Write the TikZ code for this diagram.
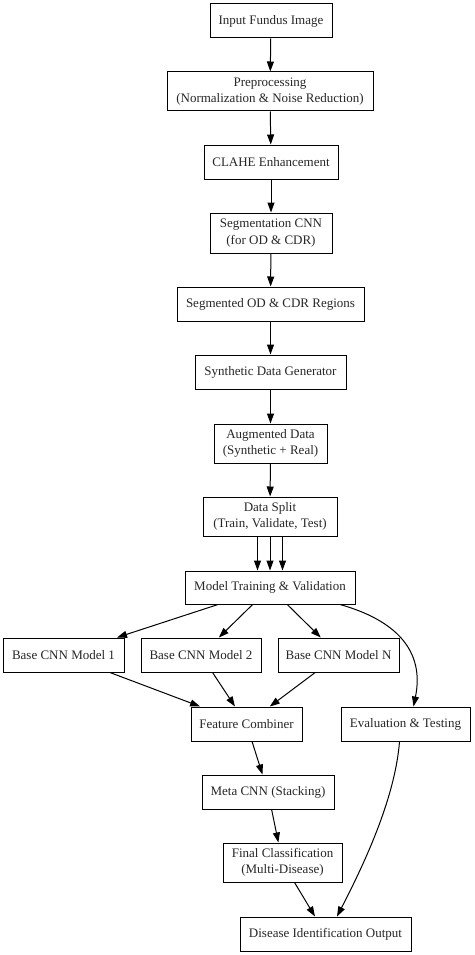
\documentclass[tikz,border=0pt]{standalone}
\usepackage{fontspec}
\setmainfont{Liberation Serif}
\usetikzlibrary{arrows.meta,calc}
\begin{document}
\begin{tikzpicture}[x=1pt,y=-1pt,
  box/.style={draw=black,line width=1pt,inner sep=0pt,align=center,
    font=\fontsize{13}{16.5}\selectfont,text=black!85},
  arr/.style={line width=1pt,-{Triangle[length=10pt,width=7pt]}}]
\useasboundingbox (0,0) rectangle (474,955);
\node[box,minimum width=122pt,minimum height=34pt] (in) at (271,21) {Input Fundus Image};
\node[box,minimum width=206pt,minimum height=39pt] (pre) at (270,91.5) {Preprocessing\\(Normalization \& Noise Reduction)};
\node[box,minimum width=134pt,minimum height=34pt] (clahe) at (271,162) {CLAHE Enhancement};
\node[box,minimum width=122pt,minimum height=40pt] (seg) at (271,233) {Segmentation CNN\\(for OD \& CDR)};
\node[box,minimum width=187pt,minimum height=34pt] (segd) at (270.5,304) {Segmented OD \& CDR Regions};
\node[box,minimum width=151pt,minimum height=34pt] (syn) at (270.5,372) {Synthetic Data Generator};
\node[box,minimum width=113pt,minimum height=39pt] (aug) at (270.5,443.5) {Augmented Data\\(Synthetic + Real)};
\node[box,minimum width=134pt,minimum height=39pt] (split) at (270,516.5) {Data Split\\(Train, Validate, Test)};
\node[box,minimum width=170pt,minimum height=33pt] (train) at (270,587.5) {Model Training \& Validation};
\node[box,minimum width=121pt,minimum height=34pt] (b1) at (63.5,655) {Base CNN Model 1};
\node[box,minimum width=120pt,minimum height=34pt] (b2) at (201,655) {Base CNN Model 2};
\node[box,minimum width=121pt,minimum height=34pt] (bn) at (338.5,655) {Base CNN Model N};
\node[box,minimum width=111pt,minimum height=34pt] (fc) at (246.5,724) {Feature Combiner};
\node[box,minimum width=129pt,minimum height=34pt] (ev) at (405.5,724) {Evaluation \& Testing};
\node[box,minimum width=132pt,minimum height=34pt] (meta) at (268,792) {Meta CNN (Stacking)};
\node[box,minimum width=119pt,minimum height=39pt] (fin) at (282.5,862.5) {Final Classification\\(Multi-Disease)};
\node[box,minimum width=171pt,minimum height=34pt] (dis) at (325.5,934) {Disease Identification Output};

\draw[arr] (in) -- (pre);
\draw[arr] (pre) -- (clahe);
\draw[arr] (clahe) -- (seg);
\draw[arr] (seg) -- (segd);
\draw[arr] (segd) -- (syn);
\draw[arr] (syn) -- (aug);
\draw[arr] (aug) -- (split);
\draw[arr] ($(split.south)+(-12.5,0)$) -- ($(train.north)+(-12.5,0)$);
\draw[arr] (split.south) -- (train.north);
\draw[arr] ($(split.south)+(12.5,0)$) -- ($(train.north)+(12.5,0)$);
\draw[arr] (train) -- (b1);
\draw[arr] (train) -- (b2);
\draw[arr] (train) -- (bn);
\draw[arr] ($(train.south)+(70,0)$) .. controls (395,620) and (425,650) .. ($(ev.north)+(8,0)$);
\draw[arr] (b1) -- (fc);
\draw[arr] (b2) -- (fc);
\draw[arr] (bn) -- (fc);
\draw[arr] (fc) -- (meta);
\draw[arr] (meta) -- (fin);
\draw[arr] (fin) -- (dis);
\draw[arr] ($(ev.south)+(-6,0)$) .. controls (395,800) and (362,868) .. ($(dis.north)+(11.5,0)$);
\end{tikzpicture}
\end{document}
